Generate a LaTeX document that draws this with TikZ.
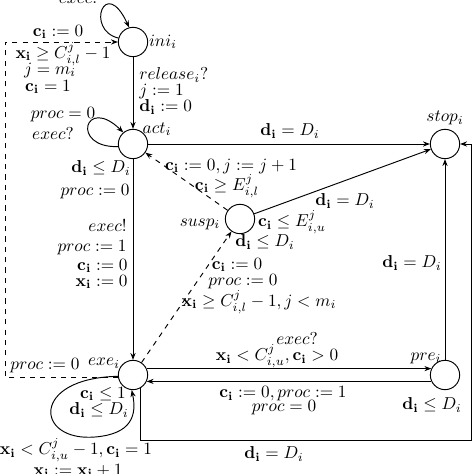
\documentclass[tikz,border=0pt]{standalone}
\usetikzlibrary{arrows.meta}
\begin{document}
\begin{tikzpicture}[x=0.58pt,y=-0.58pt,
  state/.style={circle,draw,line width=0.55pt,minimum size=17pt,inner sep=0pt},
  edge/.style={line width=0.55pt,-{Stealth[length=4pt,width=3pt]}},
  dedge/.style={edge,dashed},
  lbl/.style={inner sep=0pt,font=\normalsize}]
\useasboundingbox (0,0) rectangle (474,474);
% states
\node[state] (ini) at (133,42) {};
\node[state] (act) at (133,144) {};
\node[state] (stop) at (445,144) {};
\node[state] (susp) at (240,219) {};
\node[state] (exe) at (133,375) {};
\node[state] (pre) at (445,375) {};
% state names
\node[lbl] (nini) at (163,42) {$ini_i$};
\node[lbl] (nact) at (157,129) {$act_i$};
\node[lbl] (nstop) at (445,118) {$stop_i$};
\node[lbl] (nsusp) at (200,224) {$susp_i$};
\node[lbl] (nexe) at (104,363) {$exe_i$};
\node[lbl] (npre) at (426,358) {$pre_i$};
% ini loop
\draw[edge] (ini.165) .. controls (85,30) and (105,-25) .. (ini.105);
\node[lbl] (l0) at (78,-2) {$exec!$};
% ini -> act
\draw[edge] (ini) -- (act);
\node[lbl,anchor=west] (l1) at (139,75) {$release_i?$};
\node[lbl,anchor=west] (l2) at (139,91) {$j:=1$};
\node[lbl,anchor=west] (l3) at (139,107) {$\mathbf{d_i}:=0$};
% act loop
\draw[edge] (act.190) .. controls (70,148) and (85,95) .. (act.130);
\node[lbl] (l4) at (63,115) {$proc=0$};
\node[lbl] (l5) at (53,134) {$exec?$};
\node[lbl] (l6) at (101,168) {$\mathbf{d_i}\leq D_i$};
% act -> exe
\draw[edge] (act) -- (exe);
\node[lbl,anchor=east] (l7) at (130,192) {$proc:=0$};
\node[lbl,anchor=east] (l8) at (127,226) {$exec!$};
\node[lbl,anchor=east] (l9) at (127,248) {$proc:=1$};
\node[lbl,anchor=east] (l10) at (128,266) {$\mathbf{c_i}:=0$};
\node[lbl,anchor=east] (l11) at (128,282) {$\mathbf{x_i}:=0$};
% act -> stop
\draw[edge] (act) -- (stop);
\node[lbl] (l12) at (290,131) {$\mathbf{d_i}=D_i$};
% susp -> act
\draw[dedge] (susp) -- (act);
\node[lbl] (l13) at (231,166) {$\mathbf{c_i}:=0,j:=j+1$};
\node[lbl] (l14) at (227,186) {$\mathbf{c_i}\geq E^{j}_{i,l}$};
% susp -> stop
\draw[edge] (susp) -- (stop);
\node[lbl] (l15) at (345,201) {$\mathbf{d_i}=D_i$};
\node[lbl] (l16) at (292,222) {$\mathbf{c_i}\leq E^{j}_{i,u}$};
\node[lbl] (l17) at (265,242) {$\mathbf{d_i}\leq D_i$};
% exe -> susp
\draw[dedge] (exe) -- (susp);
\node[lbl] (l18) at (237,265) {$\mathbf{c_i}:=0$};
\node[lbl] (l19) at (243,282) {$proc:=0$};
\node[lbl] (l20) at (259,302) {$\mathbf{x_i}\geq C^{j}_{i,l}-1,j<m_i$};
% exe -> pre
\draw[edge] (exe.25) -- (pre.155);
\node[lbl] (l21) at (297,339) {$exec?$};
\node[lbl] (l22) at (277,356) {$\mathbf{x_i}<C^{j}_{i,u},\mathbf{c_i}>0$};
% pre -> exe
\draw[edge] (pre.205) -- (exe.335);
\node[lbl] (l23) at (283,394) {$\mathbf{c_i}:=0,proc:=1$};
\node[lbl] (l24) at (284,408) {$proc=0$};
\node[lbl] (l25) at (432,405) {$\mathbf{d_i}\leq D_i$};
% pre -> stop
\draw[edge] (pre) -- (stop);
\node[lbl] (l26) at (412,263) {$\mathbf{d_i}=D_i$};
% exe -> stop around
\coordinate (c2) at (471,440);
\coordinate (c3) at (471,144);
\draw[edge] (exe.300) |- (c2) -- (c3) -- (stop.east);
\node[lbl] (l27) at (274,454) {$\mathbf{d_i}=D_i$};
% exe loop
\draw[edge] (exe.185) .. controls (30,378) and (35,442) .. (95,437) .. controls (132,434) and (137,415) .. (exe.265);
\node[lbl] (l28) at (103,394) {$\mathbf{c_i}\leq 1$};
\node[lbl] (l29) at (99,410) {$\mathbf{d_i}\leq D_i$};
\node[lbl] (l30) at (76,450) {$\mathbf{x_i}<C^{j}_{i,u}-1,\mathbf{c_i}=1$};
\node[lbl] (l31) at (78,471) {$\mathbf{x_i}:=\mathbf{x_i}+1$};
% dashed exe -> ini
\coordinate (d1) at (5,377);
\coordinate (d2) at (5,42);
\draw[dedge] (exe.west |- d1) -- (d1) -- (d2) -- (ini.west);
\node[lbl] (l32) at (45,366) {$proc:=0$};
\node[lbl] (l33) at (58,32) {$\mathbf{c_i}:=0$};
\node[lbl] (l34) at (63,54) {$\mathbf{x_i}\geq C^{j}_{i,l}-1$};
\node[lbl] (l35) at (50,70) {$j=m_i$};
\node[lbl] (l36) at (48,87) {$\mathbf{c_i}=1$};
\end{tikzpicture}
\end{document}
